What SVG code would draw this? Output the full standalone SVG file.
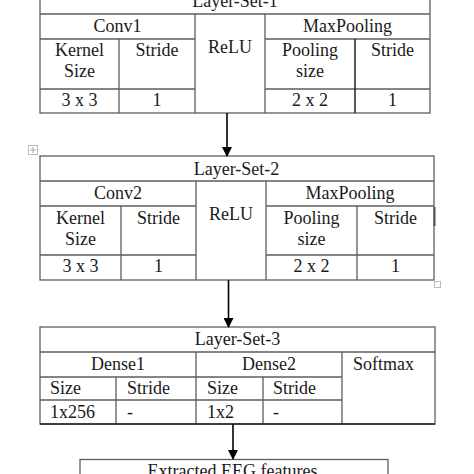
<svg xmlns="http://www.w3.org/2000/svg" width="474" height="474" viewBox="0 0 474 474">
<defs>
<marker id="ah" markerWidth="10" markerHeight="10" refX="9" refY="5" orient="auto" markerUnits="userSpaceOnUse">
<path d="M0,0 L10,5 L0,10 Z" fill="#000"/>
</marker>
<style>
.g{fill:none;stroke:#5e5e5e;stroke-width:1.3}
.k{fill:none;stroke:#222;stroke-width:1.5}
text{font-family:"Liberation Serif","Times New Roman",serif;font-size:18px;fill:#1a1a1a}
.c{text-anchor:middle}
.h{fill:#fff;stroke:#bbb;stroke-width:1}
.conn{stroke:#000;stroke-width:1.6;fill:none}
</style>
</defs>
<rect width="474" height="474" fill="#fff"/>

<g id="layer-set-1">
<rect class="g" x="40" y="-12" width="390" height="125"/>
<path class="g" d="M40,14H430 M40,39H195 M265,39H430 M40,89H195 M265,89H430 M195,14V113 M265,14V113 M119,39V113"/>
<path class="k" d="M355,39V113"/>
<text class="c" x="235" y="7">Layer-Set-1</text>
<text class="c" x="117.5" y="32">Conv1</text>
<text class="c" x="347.5" y="32">MaxPooling</text>
<text class="c" x="230" y="53">ReLU</text>
<text class="c" x="79.5" y="56">Kernel</text>
<text class="c" x="79.5" y="77">Size</text>
<text class="c" x="157" y="56">Stride</text>
<text class="c" x="310" y="56">Pooling</text>
<text class="c" x="310" y="77">size</text>
<text class="c" x="392.5" y="56">Stride</text>
<text class="c" x="79.5" y="106">3 x 3</text>
<text class="c" x="157" y="106">1</text>
<text class="c" x="310" y="106">2 x 2</text>
<text class="c" x="392.5" y="106">1</text>
</g>

<g id="layer-set-2">
<rect class="h" x="28.5" y="145.5" width="9" height="9"/>
<path d="M33,147V153 M30,150H36" stroke="#999" stroke-width="0.8"/>
<rect class="g" x="40" y="156" width="394" height="124"/>
<path class="g" d="M40,181H434 M40,206H196 M266,206H434 M40,255H196 M266,255H434 M196,181V280 M266,181V280 M121,206V280 M357,206V280"/>
<path d="M434.5,207V226" stroke="#555" stroke-width="2"/>
<rect class="h" x="434.5" y="281.5" width="6" height="6"/>
<text class="c" x="236.5" y="175">Layer-Set-2</text>
<text class="c" x="118" y="199">Conv2</text>
<text class="c" x="350" y="199">MaxPooling</text>
<text class="c" x="231" y="220">ReLU</text>
<text class="c" x="80.5" y="224">Kernel</text>
<text class="c" x="80.5" y="245">Size</text>
<text class="c" x="158.5" y="224">Stride</text>
<text class="c" x="311.5" y="224">Pooling</text>
<text class="c" x="311.5" y="245">size</text>
<text class="c" x="395.5" y="224">Stride</text>
<text class="c" x="80.5" y="272">3 x 3</text>
<text class="c" x="158.5" y="272">1</text>
<text class="c" x="311.5" y="272">2 x 2</text>
<text class="c" x="395.5" y="272">1</text>
</g>

<g id="layer-set-3">
<rect class="g" x="40" y="327" width="395" height="97"/>
<path class="g" d="M40,352H435 M40,377H342 M40,400H342 M196,352V424 M342,352V424 M116,377V424 M263,377V424"/>
<path d="M40,424H435" stroke="#222" stroke-width="1.6"/>
<text class="c" x="237.5" y="345">Layer-Set-3</text>
<text class="c" x="118" y="370">Dense1</text>
<text class="c" x="269" y="370">Dense2</text>
<text x="353" y="370">Softmax</text>
<text x="50" y="394">Size</text>
<text x="127" y="394">Stride</text>
<text x="207" y="394">Size</text>
<text x="273" y="394">Stride</text>
<text x="50" y="418">1x256</text>
<text x="127" y="418">-</text>
<text x="207" y="418">1x2</text>
<text x="273" y="418">-</text>
</g>

<g id="features">
<rect class="g" x="80" y="459.5" width="308" height="40"/>
<text class="c" x="232.5" y="477">Extracted EEG features</text>
</g>

<g id="connectors">
<line class="conn" x1="227" y1="113" x2="227" y2="156" marker-end="url(#ah)"/>
<line class="conn" x1="228.5" y1="280" x2="228.5" y2="327" marker-end="url(#ah)"/>
<line class="conn" x1="233" y1="424" x2="233" y2="459" marker-end="url(#ah)"/>
</g>
</svg>
